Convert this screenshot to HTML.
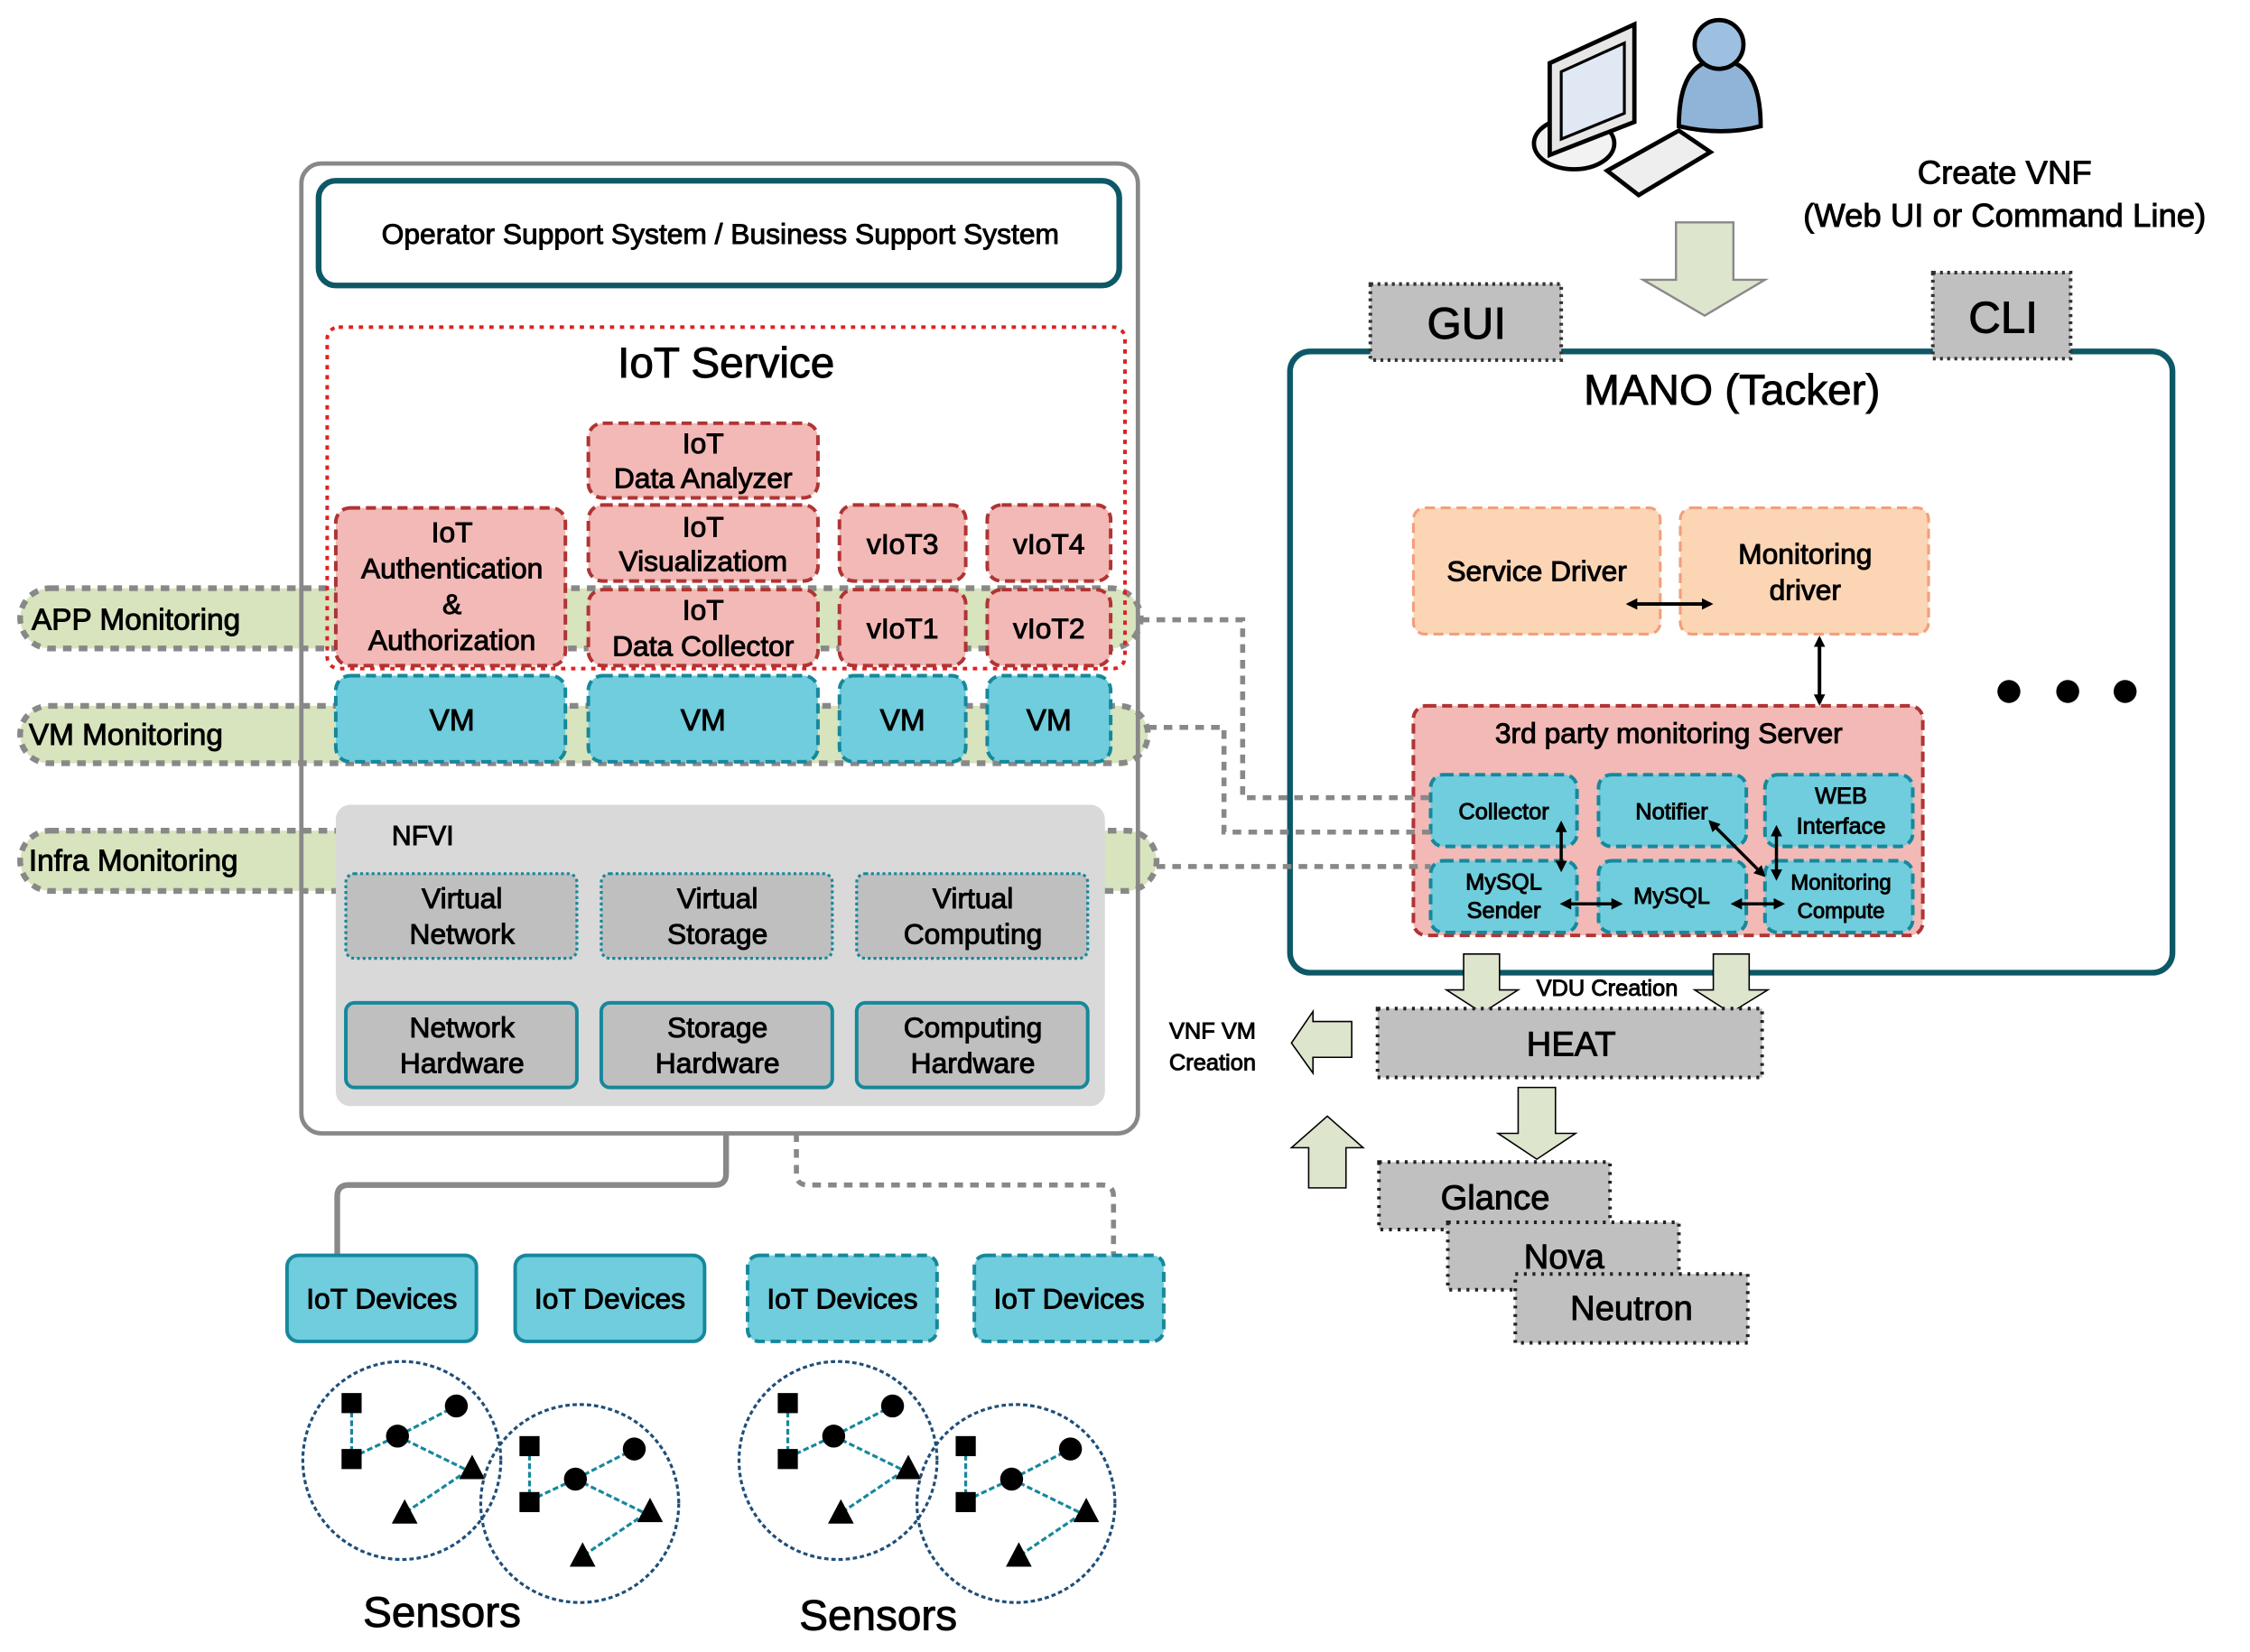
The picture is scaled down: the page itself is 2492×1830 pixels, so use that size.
<!DOCTYPE html>
<html><head><meta charset="utf-8"><style>
html,body{margin:0;padding:0;background:#fff;}
svg{display:block;}
text{font-family:"Liberation Sans","DejaVu Sans",sans-serif;fill:#000;stroke:#000;stroke-width:0.6;text-anchor:middle;}
.l{text-anchor:start;}
</style></head><body>
<svg width="2492" height="1830" viewBox="0 0 1568 1151.5" xmlns="http://www.w3.org/2000/svg">
<defs>
<marker id="ah" markerWidth="8" markerHeight="8" refX="6" refY="4" orient="auto-start-reverse" markerUnits="userSpaceOnUse"><path d="M0,0 L8,4 L0,8 z" fill="#000"/></marker>
</defs>

<rect x="14" y="410" width="781" height="42" rx="21" fill="#d7e4bd" stroke="#888" stroke-width="4" stroke-dasharray="6,5"/>
<rect x="14" y="492" width="786" height="40" rx="20" fill="#d7e4bd" stroke="#888" stroke-width="4" stroke-dasharray="6,5"/>
<rect x="14" y="579" width="792" height="42" rx="21" fill="#d7e4bd" stroke="#888" stroke-width="4" stroke-dasharray="6,5"/>
<text class="l" x="22" y="439" font-size="21">APP Monitoring</text>
<text class="l" x="20" y="519" font-size="21">VM Monitoring</text>
<text class="l" x="20" y="607" font-size="21">Infra Monitoring</text>

<rect x="210" y="114" width="583" height="676" rx="14" fill="none" stroke="#888" stroke-width="3"/>
<rect x="222" y="126" width="558" height="73" rx="12" fill="#fff" stroke="#0d5866" stroke-width="4"/>
<text x="502" y="170" font-size="20">Operator Support System / Business Support System</text>

<rect x="228" y="228" width="556" height="238" rx="8" fill="none" stroke="#e02020" stroke-width="2.5" stroke-dasharray="3,4"/>
<text x="506" y="263" font-size="30">IoT Service</text>

<g fill="#f2b9b6" stroke="#b03434" stroke-width="2.5" stroke-dasharray="7,4">
<rect x="234" y="354" width="160" height="110" rx="10"/>
<rect x="410" y="295" width="160" height="52" rx="10"/>
<rect x="410" y="352" width="160" height="53" rx="10"/>
<rect x="410" y="411" width="160" height="53" rx="10"/>
<rect x="585" y="352" width="88" height="53" rx="10"/>
<rect x="688" y="352" width="86" height="53" rx="10"/>
<rect x="585" y="411" width="88" height="53" rx="10"/>
<rect x="688" y="411" width="86" height="53" rx="10"/>
</g>
<g font-size="20">
<text x="315" y="378">IoT</text><text x="315" y="403">Authentication</text><text x="315" y="428">&amp;</text><text x="315" y="453">Authorization</text>
<text x="490" y="316">IoT</text><text x="490" y="340">Data Analyzer</text>
<text x="490" y="374">IoT</text><text x="490" y="398">Visualizatiom</text>
<text x="490" y="432">IoT</text><text x="490" y="457">Data Collector</text>
<text x="629" y="386">vIoT3</text><text x="731" y="386">vIoT4</text>
<text x="629" y="445">vIoT1</text><text x="731" y="445">vIoT2</text>
</g>

<g fill="#6fcddd" stroke="#16889c" stroke-width="2.5" stroke-dasharray="7,4">
<rect x="234" y="471" width="160" height="60" rx="10"/>
<rect x="410" y="471" width="160" height="60" rx="10"/>
<rect x="585" y="471" width="88" height="60" rx="10"/>
<rect x="688" y="471" width="86" height="60" rx="10"/>
</g>
<g font-size="21"><text x="315" y="509">VM</text><text x="490" y="509">VM</text><text x="629" y="509">VM</text><text x="731" y="509">VM</text></g>

<rect x="234" y="561" width="536" height="210" rx="10" fill="#d9d9d9"/>
<text class="l" x="273" y="589" font-size="19">NFVI</text>
<g fill="#bfbfbf" stroke="#16889c" stroke-width="2" stroke-dasharray="2,2">
<rect x="241" y="609" width="161" height="59" rx="6"/><rect x="419" y="609" width="161" height="59" rx="6"/><rect x="597" y="609" width="161" height="59" rx="6"/>
</g>
<g fill="#bfbfbf" stroke="#16889c" stroke-width="2.5">
<rect x="241" y="699" width="161" height="59" rx="6"/><rect x="419" y="699" width="161" height="59" rx="6"/><rect x="597" y="699" width="161" height="59" rx="6"/>
</g>
<g font-size="20">
<text x="322" y="633">Virtual</text><text x="322" y="658">Network</text>
<text x="500" y="633">Virtual</text><text x="500" y="658">Storage</text>
<text x="678" y="633">Virtual</text><text x="678" y="658">Computing</text>
<text x="322" y="723">Network</text><text x="322" y="748">Hardware</text>
<text x="500" y="723">Storage</text><text x="500" y="748">Hardware</text>
<text x="678" y="723">Computing</text><text x="678" y="748">Hardware</text>
</g>

<path d="M506,790 V818 Q506,826 498,826 H243 Q235,826 235,834 V875" fill="none" stroke="#888" stroke-width="4"/>
<path d="M555,790 V818 Q555,826 563,826 H768 Q776,826 776,834 V875" fill="none" stroke="#888" stroke-width="3.5" stroke-dasharray="6,5"/>

<g fill="#6fcddd" stroke="#16889c" stroke-width="2.5">
<rect x="200" y="875" width="132" height="60" rx="8"/><rect x="359" y="875" width="132" height="60" rx="8"/>
</g>
<g fill="#6fcddd" stroke="#16889c" stroke-width="2.5" stroke-dasharray="7,4">
<rect x="521" y="875" width="132" height="60" rx="8"/><rect x="679" y="875" width="132" height="60" rx="8"/>
</g>
<g font-size="20"><text x="266" y="912">IoT Devices</text><text x="425" y="912">IoT Devices</text><text x="587" y="912">IoT Devices</text><text x="745" y="912">IoT Devices</text></g>

<g id="sn">
<circle cx="280" cy="1018" r="69" fill="none" stroke="#1f4e79" stroke-width="2" stroke-dasharray="3,2"/>
<g stroke="#16889c" stroke-width="2" stroke-dasharray="4,2" fill="none">
<path d="M245,978 V1016"/><path d="M245,1016 L277,1001 L318,980"/><path d="M277,1001 L326,1025"/><path d="M326,1025 L283,1054"/>
</g>
<rect x="238" y="971" width="14" height="14" fill="#000"/><rect x="238" y="1010" width="14" height="14" fill="#000"/>
<circle cx="277" cy="1001" r="8" fill="#000"/><circle cx="318" cy="980" r="8" fill="#000"/>
<path d="M320,1031 L329,1014 L338,1031 z" fill="#000"/><path d="M273,1062 L282,1045 L291,1062 z" fill="#000"/>
</g>
<use href="#sn" transform="translate(124,30)"/>
<g transform="translate(304,0)">
<use href="#sn"/>
<use href="#sn" transform="translate(124,30)"/>
</g>
<text x="308" y="1134" font-size="30">Sensors</text>
<text x="612" y="1136" font-size="30">Sensors</text>

<ellipse cx="1097" cy="100" rx="28" ry="18" fill="#f2f2f2" stroke="#000" stroke-width="3"/>
<path d="M1080,44 L1139,17 L1139,85 L1080,108 z" fill="#e6e6e6" stroke="#000" stroke-width="3"/>
<path d="M1088,50 L1132,30 L1132,79 L1088,97 z" fill="#dfe8f3" stroke="#000" stroke-width="2"/>
<path d="M1120,119 L1170,91 L1192,106 L1142,136 z" fill="#eee" stroke="#000" stroke-width="3"/>
<path d="M1170,88 Q1170,42 1198,42 Q1227,42 1227,88 Q1200,95 1170,88 z" fill="#8fb4d8" stroke="#000" stroke-width="3"/>
<circle cx="1198" cy="31" r="17" fill="#9ec0e0" stroke="#000" stroke-width="3"/>

<text x="1397" y="128" font-size="23">Create VNF</text>
<text x="1397" y="158" font-size="23">(Web UI or Command Line)</text>
<path d="M1168,155 H1208 V195 H1230 L1188,220 L1145,195 H1168 z" fill="#dde5cd" stroke="#888" stroke-width="1.5"/>

<rect x="899" y="245" width="615" height="433" rx="14" fill="#fff" stroke="#0d5866" stroke-width="4"/>
<rect x="955" y="198" width="133" height="53" fill="#c0c0c0" stroke="#333" stroke-width="2.5" stroke-dasharray="2,3"/>
<rect x="1347" y="190" width="96" height="60" fill="#c0c0c0" stroke="#333" stroke-width="2.5" stroke-dasharray="2,3"/>
<text x="1022" y="236" font-size="31">GUI</text>
<text x="1396" y="232" font-size="31">CLI</text>
<text x="1207" y="282" font-size="30">MANO (Tacker)</text>

<g fill="#fcd5b5" stroke="#f29f7d" stroke-width="2" stroke-dasharray="7,4">
<rect x="985" y="354" width="172" height="88" rx="8"/><rect x="1171" y="354" width="173" height="88" rx="8"/>
</g>
<text x="1071" y="405" font-size="20">Service Driver</text>
<text x="1258" y="393" font-size="20">Monitoring</text><text x="1258" y="418" font-size="20">driver</text>
<line x1="1135" y1="421" x2="1192" y2="421" stroke="#000" stroke-width="2.5" marker-start="url(#ah)" marker-end="url(#ah)"/>
<line x1="1268" y1="445" x2="1268" y2="490" stroke="#000" stroke-width="2.5" marker-start="url(#ah)" marker-end="url(#ah)"/>
<circle cx="1400" cy="482" r="8" fill="#000"/><circle cx="1441" cy="482" r="8" fill="#000"/><circle cx="1481" cy="482" r="8" fill="#000"/>

<rect x="985" y="492" width="355" height="160" rx="9" fill="#f2b9b6" stroke="#b03434" stroke-width="2.5" stroke-dasharray="7,4"/>
<text x="1163" y="518" font-size="20">3rd party monitoring Server</text>
<g fill="#6fcddd" stroke="#16889c" stroke-width="2.5" stroke-dasharray="7,4">
<rect x="997" y="540" width="102" height="50" rx="9"/><rect x="1114" y="540" width="103" height="50" rx="9"/><rect x="1230" y="540" width="103" height="50" rx="9"/>
<rect x="997" y="600" width="102" height="50" rx="9"/><rect x="1114" y="600" width="103" height="50" rx="9"/><rect x="1230" y="600" width="103" height="50" rx="9"/>
</g>
<g font-size="16">
<text x="1048" y="571">Collector</text><text x="1165" y="571">Notifier</text>
<text x="1283" y="560">WEB</text><text x="1283" y="581">Interface</text>
<text x="1048" y="620">MySQL</text><text x="1048" y="640">Sender</text>
<text x="1165" y="630">MySQL</text>
<text x="1283" y="620" font-size="15">Monitoring</text><text x="1283" y="640" font-size="15">Compute</text>
</g>
<g stroke="#000" stroke-width="2.2">
<line x1="1088" y1="574" x2="1088" y2="606" marker-start="url(#ah)" marker-end="url(#ah)"/>
<line x1="1089" y1="630" x2="1129" y2="630" marker-start="url(#ah)" marker-end="url(#ah)"/>
<line x1="1208" y1="630" x2="1242" y2="630" marker-start="url(#ah)" marker-end="url(#ah)"/>
<line x1="1238" y1="577" x2="1238" y2="612" marker-start="url(#ah)" marker-end="url(#ah)"/>
<line x1="1192" y1="573" x2="1229" y2="610" marker-start="url(#ah)" marker-end="url(#ah)"/>
</g>

<g fill="none" stroke="#888" stroke-width="3.5" stroke-dasharray="6,5">
<path d="M795,432 H866 V556 H997"/>
<path d="M800,507 H853 V580 H997"/>
<path d="M806,604 H997"/>
</g>

<path d="M1020,665 H1045 V690 H1058 L1033,706 L1008,690 H1020 z" fill="#dde5cd" stroke="#000" stroke-width="1"/>
<path d="M1194,665 H1219 V690 H1232 L1206,706 L1181,690 H1194 z" fill="#dde5cd" stroke="#000" stroke-width="1"/>
<text x="1120" y="694" font-size="16">VDU Creation</text>
<rect x="960" y="703" width="268" height="48" fill="#c0c0c0" stroke="#222" stroke-width="2.5" stroke-dasharray="2,4"/>
<text x="1095" y="736" font-size="24">HEAT</text>
<path d="M942,712 V737 H915 V748 L900,727 L915,705 V712 z" fill="#dde5cd" stroke="#000" stroke-width="1"/>
<text x="845" y="724" font-size="16">VNF VM</text><text x="845" y="746" font-size="16">Creation</text>
<path d="M912,828 V800 H900 L925,778 L950,800 H938 V828 z" fill="#dde5cd" stroke="#000" stroke-width="1"/>
<path d="M1058,758 H1084 V790 H1098 L1071,808 L1044,790 H1058 z" fill="#dde5cd" stroke="#000" stroke-width="1"/>
<rect x="961" y="810" width="161" height="47" fill="#c0c0c0" stroke="#222" stroke-width="2.5" stroke-dasharray="2,4"/>
<text x="1042" y="843" font-size="24">Glance</text>
<rect x="1009" y="852" width="161" height="47" fill="#c0c0c0" stroke="#222" stroke-width="2.5" stroke-dasharray="2,4"/>
<text x="1090" y="884" font-size="24">Nova</text>
<rect x="1056" y="888" width="162" height="48" fill="#c0c0c0" stroke="#222" stroke-width="2.5" stroke-dasharray="2,4"/>
<text x="1137" y="920" font-size="24">Neutron</text>
</svg>
</body></html>
